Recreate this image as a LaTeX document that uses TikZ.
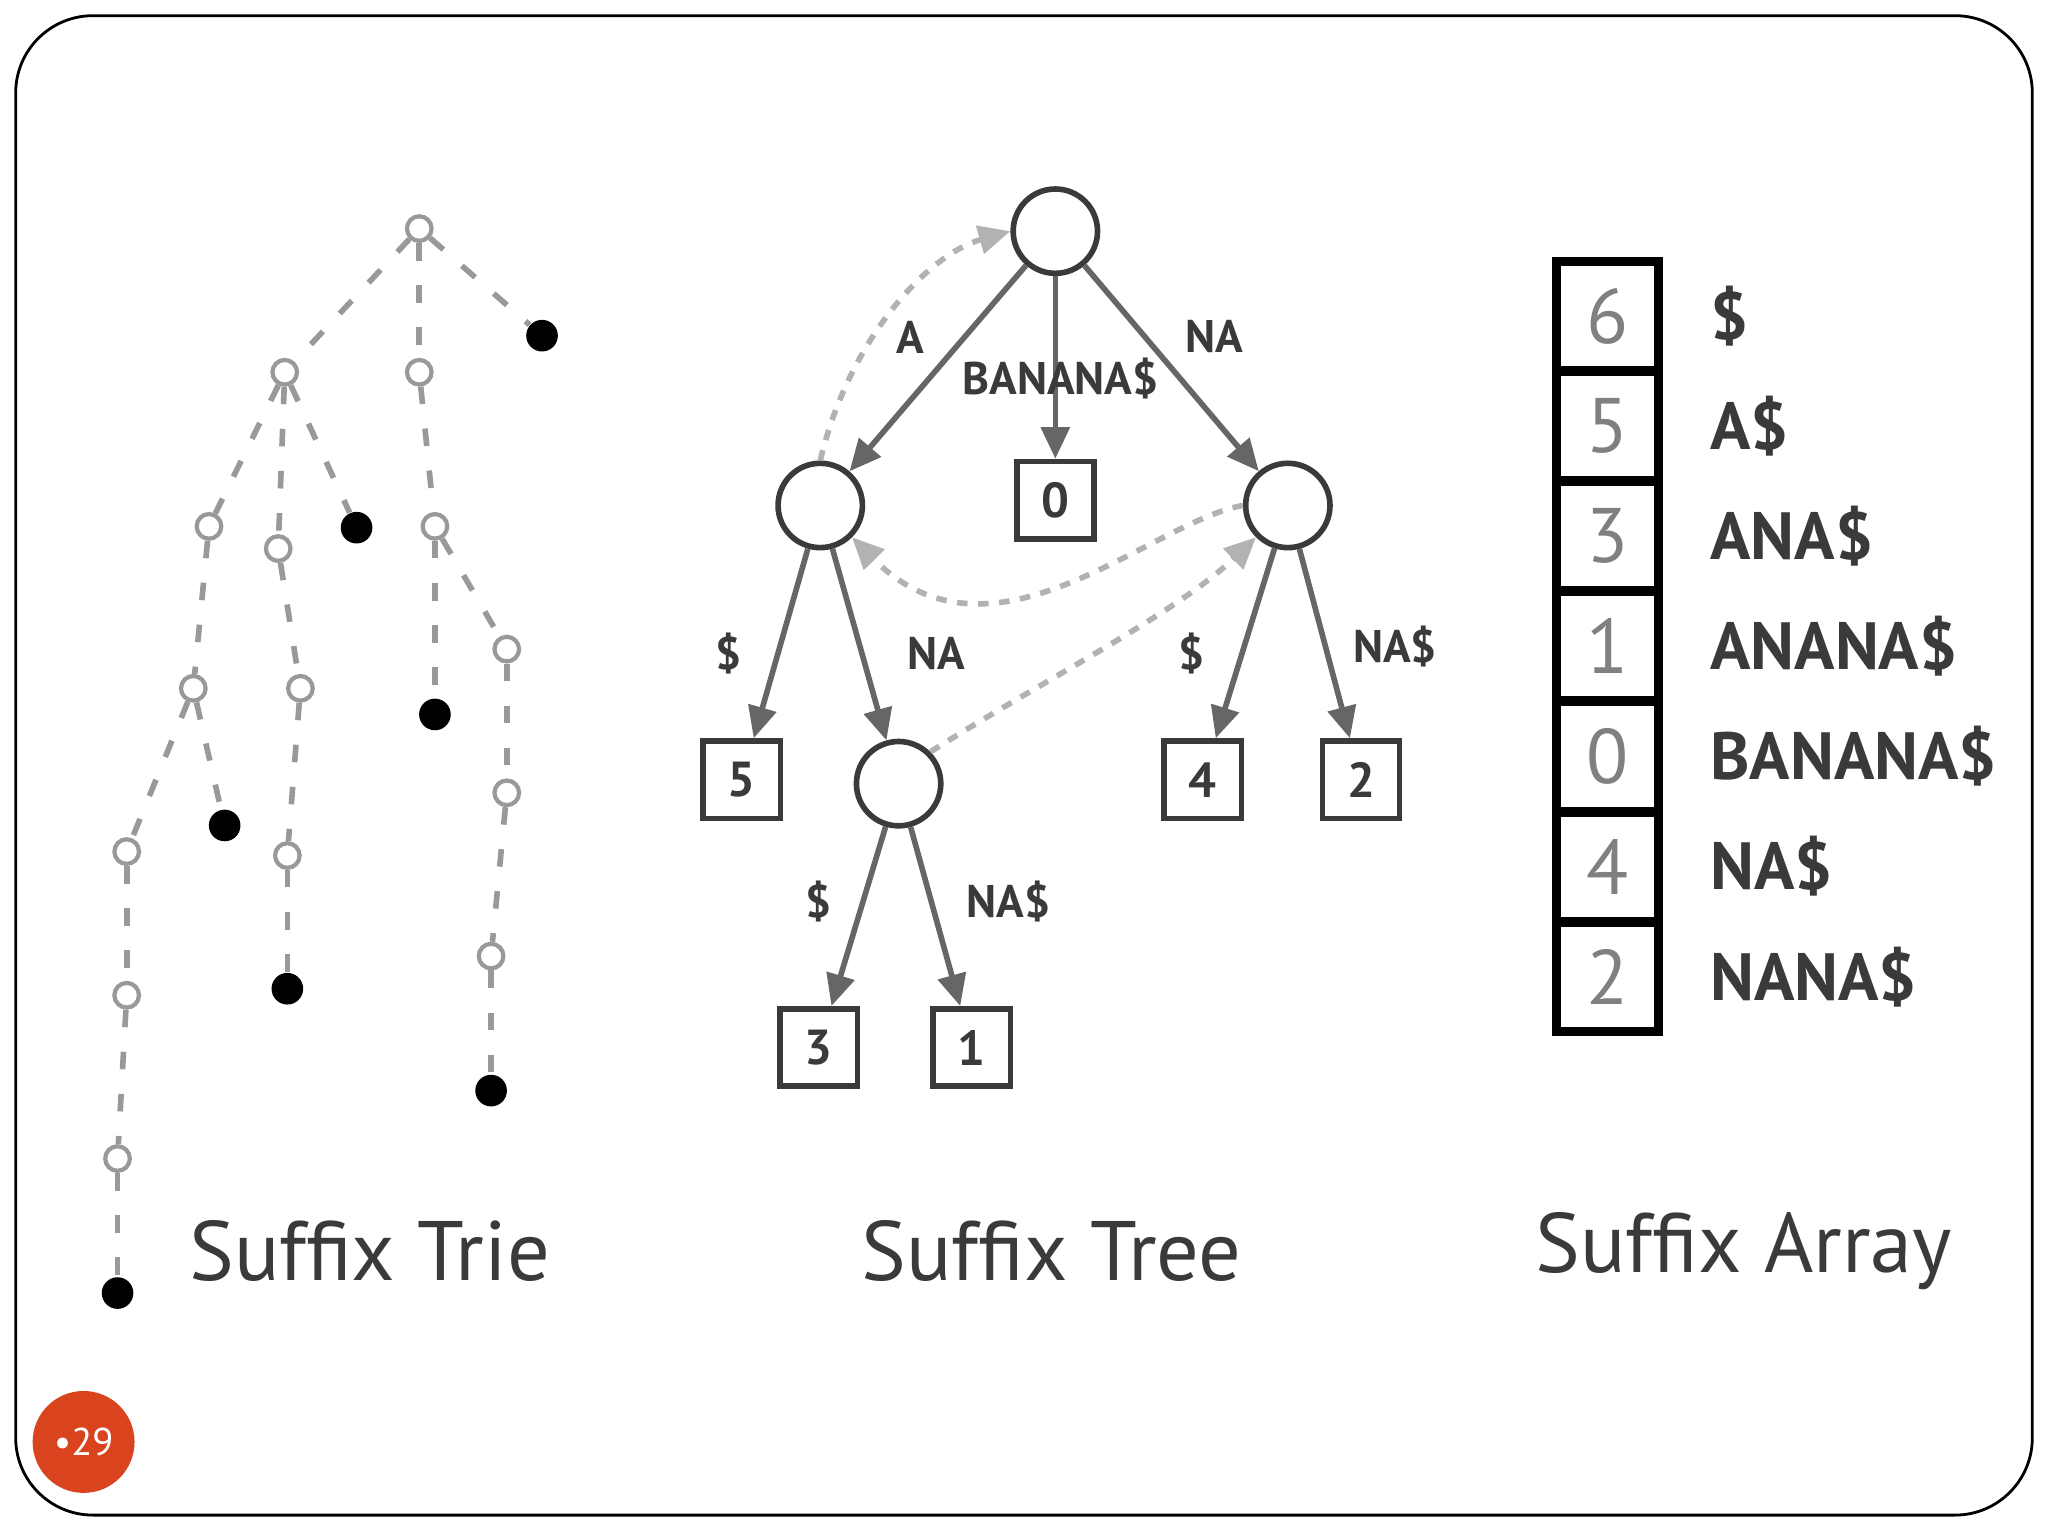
\documentclass[tikz,border=0pt]{standalone}
\usepackage{fontspec}
\setmainfont{PT Sans}
\usetikzlibrary{arrows.meta}
\definecolor{badge}{HTML}{D9441F}
\definecolor{ink}{HTML}{3A3A3A}
\begin{document}
\begin{tikzpicture}[x=0.01306cm,y=-0.01306cm,
  tn/.style={circle,draw=gray!80,line width=1.2pt,fill=white,minimum size=7pt,inner sep=0pt},
  tl/.style={circle,fill=black,minimum size=9pt,inner sep=0pt},
  te/.style={draw=gray!80,line width=1.6pt,dash pattern=on 5pt off 7pt},
  cn/.style={circle,draw=ink,line width=1.6pt,minimum size=24pt,inner sep=0pt},
  bx/.style={draw=ink,line width=1.6pt,minimum size=22pt,inner sep=0pt,font=\fontsize{14}{14}\selectfont\bfseries,text=ink},
  ar/.style={draw=gray!80!black,line width=1.6pt,-{Triangle[length=9pt,width=8pt]}},
  da/.style={draw=gray!60,line width=1.6pt,dashed,-{Triangle[length=9pt,width=8pt]}},
  lb/.style={font=\fontsize{13}{13}\selectfont\bfseries,text=ink},
  ac/.style={draw=black,line width=2.5pt,minimum width=29pt,minimum height=31pt,inner sep=0pt,font=\fontsize{22}{22}\selectfont,text=gray},
  al/.style={anchor=west,font=\fontsize{19}{19}\selectfont\bfseries,text=ink},
  ttl/.style={font=\fontsize{24}{24}\selectfont,text=ink}]
\useasboundingbox (0,0) rectangle (1568,1176);
\fill[white] (0,0) rectangle (1568,1176);
\draw[black,line width=0.8pt,rounded corners=22pt] (12,12) rectangle (1556,1160);
% Suffix trie
\node[tn] (r) at (321,175) {};
\node[tl] (l1) at (415,257) {};
\node[tn] (a) at (218,285) {};
\node[tn] (n) at (321,285) {};
\node[tn] (a1) at (160,403) {};
\node[tn] (a2) at (213,420) {};
\node[tl] (l2) at (273,404) {};
\node[tn] (a3) at (148,527) {};
\node[tl] (l3) at (172,632) {};
\node[tn] (a4) at (97,652) {};
\node[tn] (a5) at (97,762) {};
\node[tn] (a6) at (90,887) {};
\node[tl] (l4) at (90,990) {};
\node[tn] (b1) at (230,527) {};
\node[tn] (b2) at (220,655) {};
\node[tl] (l5) at (220,757) {};
\node[tn] (c1) at (333,403) {};
\node[tl] (l6) at (333,547) {};
\node[tn] (c2) at (388,497) {};
\node[tn] (c3) at (388,607) {};
\node[tn] (c4) at (376,732) {};
\node[tl] (l7) at (376,835) {};
\foreach \u/\v in {r/l1,r/a,r/n,a/a1,a/a2,a/l2,a1/a3,a3/l3,a3/a4,a4/a5,a5/a6,a6/l4,a2/b1,b1/b2,b2/l5,n/c1,c1/l6,c1/c2,c2/c3,c3/c4,c4/l7}
  \draw[te] (\u) -- (\v);
% Suffix tree
\node[cn] (R) at (808,177) {};
\node[cn] (L) at (628,387) {};
\node[bx] (b0) at (808,383) {0};
\node[cn] (Rt) at (986,387) {};
\node[bx] (b5) at (568,597) {5};
\node[cn] (M) at (688,600) {};
\node[bx] (b3) at (627,802) {3};
\node[bx] (b1x) at (744,802) {1};
\node[bx] (b4) at (921,597) {4};
\node[bx] (b2) at (1042,597) {2};
\draw[ar] (R) -- (L); \draw[ar] (R) -- (b0); \draw[ar] (R) -- (Rt);
\draw[ar] (L) -- (b5); \draw[ar] (L) -- (M);
\draw[ar] (M) -- (b3); \draw[ar] (M) -- (b1x);
\draw[ar] (Rt) -- (b4); \draw[ar] (Rt) -- (b2);
\node[lb] at (697,258) {A};
\node[lb] at (812,290) {BANANA\$};
\node[lb] at (930,258) {NA};
\node[lb] at (558,500) {\$};
\node[lb] at (717,500) {NA};
\node[lb] at (912,500) {\$};
\node[lb] at (1068,495) {NA\$};
\node[lb] at (627,690) {\$};
\node[lb] at (772,690) {NA\$};
\draw[da] (L.north) .. controls (650,260) and (710,195) .. (R.west);
\draw[da] (Rt.west) .. controls (880,400) and (760,520) .. (L.south east);
\draw[da] (M.north east) .. controls (800,520) and (900,470) .. (Rt.south west);
% Suffix array
\foreach \i/\n/\s in {0/6/\$,1/5/A\$,2/3/ANA\$,3/1/ANANA\$,4/0/BANANA\$,5/4/NA\$,6/2/NANA\$}{
  \node[ac] (c\i) at (1231,242+84.3*\i) {\n};
  \node[al] (s\i) at (1300,242+84.3*\i) {\s};
}
% titles
\node[ttl] (t1) at (283,958) {Suffix Trie};
\node[ttl] (t2) at (805,958) {Suffix Tree};
\node[ttl] (t3) at (1335,958) {Suffix Array};
% badge
\node[circle,fill=badge,minimum size=29pt,inner sep=0pt,text=white,font=\fontsize{11}{11}\selectfont] (pg) at (64,1104) {•29};
\end{tikzpicture}
\end{document}
